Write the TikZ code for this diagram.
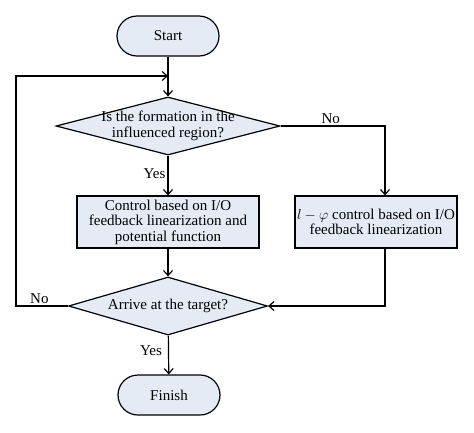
\documentclass[tikz,border=0pt]{standalone}
\usepackage{fontspec}
\setmainfont{Liberation Serif}
\usetikzlibrary{shapes.geometric,arrows.meta}
\definecolor{boxfill}{RGB}{228,235,245}
\begin{document}
\begin{tikzpicture}[x=1pt,y=-1pt,line width=1.2pt,
  every node/.style={font=\fontsize{15}{15.5}\selectfont,align=center},
  terminal/.style={draw,fill=boxfill,rounded corners=20pt,minimum width=102pt,minimum height=40pt,inner sep=0pt},
  process/.style={draw,fill=boxfill,minimum height=52pt,inner sep=0pt},
  decision/.style={draw,fill=boxfill,diamond,inner sep=0pt},
  flow/.style={-{Straight Barb[length=5pt,width=9pt]}}]
  \useasboundingbox (0,0) rectangle (474,432);
  \node [terminal] (start) at (168,36) {Start};
  \node [decision,minimum width=224pt,minimum height=58pt] (d1) at (168,126) {};
  \node at (d1) {Is the formation in the\\influenced region?};
  \node [process,minimum width=182pt] (box1) at (168,222) {Control based on I/O\\feedback linearization and\\potential function};
  \node [process,minimum width=162pt] (box2) at (376,222) {$l-\varphi$ control based on I/O\\feedback linearization};
  \node [decision,minimum width=199pt,minimum height=58pt] (d2) at (168,306) {};
  \node at (d2) {Arrive at the target?};
  \node [terminal] (finish) at (169,395) {Finish};
  \coordinate (loopin) at (168,76);
  \coordinate (loopcorner) at (16,76);
  \draw [flow] (start) -- (d1);
  \draw [flow] (d1) -- node [pos=0.45,left,inner sep=2pt] {Yes} (box1);
  \draw [flow] (d1.east) -| node [pos=0.24,above,inner sep=2pt] {No} ([xshift=9pt]box2.north);
  \draw [flow] (box1) -- (d2);
  \draw [flow] ([xshift=9pt]box2.south) |- (d2.east);
  \draw [flow] (d2.west) -- node [pos=0.55,above,inner sep=2pt] {No} (d2.west -| loopcorner) -- (loopcorner) -- (loopin);
  \draw [flow] (d2) -- node [pos=0.4,left,inner sep=6pt] {Yes} (finish);
\end{tikzpicture}
\end{document}
